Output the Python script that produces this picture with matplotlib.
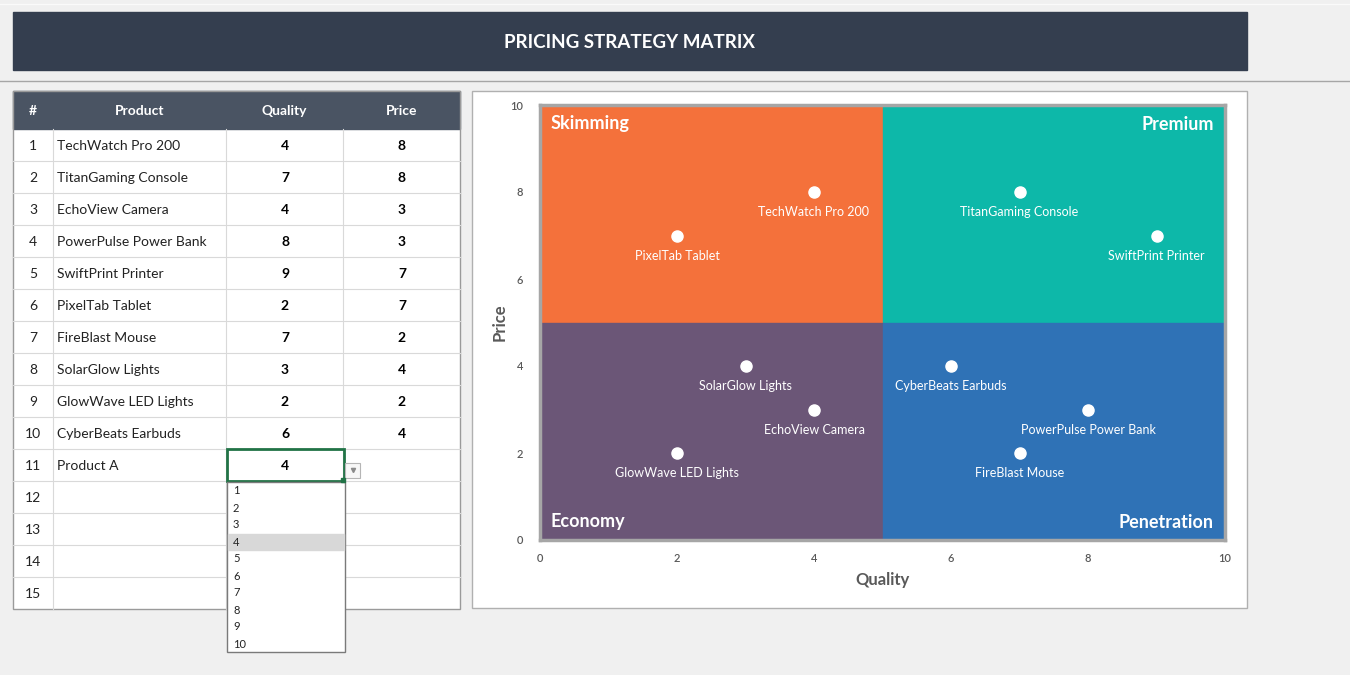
import matplotlib
matplotlib.use("Agg")
import matplotlib.pyplot as plt
from matplotlib.patches import Rectangle

plt.rcParams['font.family'] = ['Lato', 'DejaVu Sans']

# data
products = ['TechWatch Pro 200', 'TitanGaming Console', 'EchoView Camera', 'PowerPulse Power Bank',
            'SwiftPrint Printer', 'PixelTab Tablet', 'FireBlast Mouse', 'SolarGlow Lights',
            'GlowWave LED Lights', 'CyberBeats Earbuds', 'Product A']
quality = [4, 7, 4, 8, 9, 2, 7, 3, 2, 6, 4]
price = [8, 8, 3, 3, 7, 7, 2, 4, 2, 4, None]
n_rows = 15
dropdown_items = [str(i) for i in range(1, 11)]
quadrants = ['Skimming', 'Premium', 'Economy', 'Penetration']
quad_colors = ['#F4713B', '#0DB8A9', '#6B5677', '#2F72B6']

W, H = 1350, 675
fig = plt.figure(figsize=(W / 100, H / 100), dpi=100, facecolor='#F0F0F0')

# full-figure overlay in pixel coordinates
bg = fig.add_axes([0, 0, 1, 1])
bg.set_xlim(0, W)
bg.set_ylim(H, 0)
bg.axis('off')

# title bar
bg.add_patch(Rectangle((13, 12), 1234, 58, color='#343E4F'))
bg.text(630, 43, 'PRICING STRATEGY MATRIX', color='white', fontsize=13.5, fontweight='bold',
        ha='center', va='center')
bg.plot([0, W], [81, 81], color='#A6A6A6', lw=1)
bg.plot([0, W], [4, 4], color='#FAFAFA', lw=1)

# table
cols = [13, 53, 226, 343, 460]
top, head_h, row_h = 91, 38, 32
bg.add_patch(Rectangle((13, 129), 447, n_rows * row_h, facecolor='white', edgecolor='none'))
bg.add_patch(Rectangle((13, top), 447, head_h, color='#4A5463'))
for lab, x0, x1 in zip(['#', 'Product', 'Quality', 'Price'], cols[:-1], cols[1:]):
    bg.text((x0 + x1) / 2, top + head_h / 2 + 1, lab, color='white', fontsize=10, fontweight='bold',
            ha='center', va='center')
for i in range(n_rows):
    y0 = top + head_h + i * row_h
    yc = y0 + row_h / 2 + 1
    if i > 0:
        bg.plot([13, 460], [y0, y0], color='#D9D9D9', lw=0.8)
    bg.text(33, yc, str(i + 1), fontsize=10, ha='center', va='center', color='#222222')
    if i < len(products):
        bg.text(57, yc, products[i], fontsize=10, ha='left', va='center', color='#222222')
        bg.text(285, yc, str(quality[i]), fontsize=10, fontweight='bold', ha='center', va='center')
        if price[i] is not None:
            bg.text(402, yc, str(price[i]), fontsize=10, fontweight='bold', ha='center', va='center')
bottom = top + head_h + n_rows * row_h
for x in cols[1:-1]:
    bg.plot([x, x], [top + head_h, bottom], color='#D9D9D9', lw=0.8)
bg.add_patch(Rectangle((13, top), 447, bottom - top, fill=False, edgecolor='#9A9A9A', lw=1))

# selected cell and dropdown list
bg.add_patch(Rectangle((226.5, 448.5), 117, 32, fill=False, edgecolor='#217346', lw=2, zorder=5))
bg.add_patch(Rectangle((341, 478), 4, 4, color='#217346', zorder=6))
bg.add_patch(Rectangle((345, 463), 15, 15, facecolor='#F7F7F7', edgecolor='#B5B5B5', lw=0.8, zorder=5))
bg.plot([352.5], [470], marker='v', color='#8A8A8A', markersize=3, zorder=6)
bg.add_patch(Rectangle((226.5, 482), 118, 170, facecolor='white', edgecolor='#7A7A7A', lw=1, zorder=5))
for j, item in enumerate(dropdown_items):
    yc = 491 + j * 17
    if item == '4':
        bg.add_patch(Rectangle((227.5, yc - 8), 116, 16, color='#D8D8D8', zorder=6))
    bg.text(233, yc, item, fontsize=8, ha='left', va='center', color='#222222', zorder=7)

# chart area
bg.add_patch(Rectangle((472, 91), 775, 517, facecolor='white', edgecolor='#B0B0B0', lw=1))

ax = fig.add_axes([540 / W, 1 - 540 / H, 685 / W, 435 / H])
ax.set_xlim(0, 10)
ax.set_ylim(0, 10)
spans = [(0, 5, 5, 10), (5, 10, 5, 10), (0, 5, 0, 5), (5, 10, 0, 5)]
for (x0, x1, y0, y1), c in zip(spans, quad_colors):
    ax.add_patch(Rectangle((x0, y0), x1 - x0, y1 - y0, color=c, zorder=0))
for s in ax.spines.values():
    s.set_color('#A6A6A6')
    s.set_linewidth(2.5)

qx = [0.0, 10.0, 0.0, 10.0]
qy = [10.0, 10.0, 0.0, 0.0]
for name, x, y in zip(quadrants, qx, qy):
    ax.annotate(name, (x, y), xytext=(11 if x == 0 else -11, -19 if y == 10 else 18),
                textcoords='offset pixels', color='white', fontsize=13, fontweight='bold',
                ha='left' if x == 0 else 'right', va='center')

for name, q, p in zip(products, quality, price):
    if p is None:
        continue
    ax.plot(q, p, 'o', color='white', markersize=8, zorder=3)
    ax.annotate(name, (q, p), xytext=(0, -20), textcoords='offset pixels', color='white',
                fontsize=9, ha='center', va='center')

ax.set_xticks([0, 2, 4, 6, 8, 10])
ax.set_yticks([0, 2, 4, 6, 8, 10])
ax.tick_params(length=0, labelsize=8, labelcolor='#595959', pad=9)
ax.tick_params(axis='y', pad=12)
for t in ax.get_xticklabels() + ax.get_yticklabels():
    t.set_fontweight('semibold')
ax.set_xlabel('Quality', fontsize=12, fontweight='bold', color='#595959', labelpad=6)
ax.set_ylabel('Price', fontsize=12, fontweight='bold', color='#595959', labelpad=2)

fig.savefig('out.png', dpi=100, facecolor=fig.get_facecolor())
